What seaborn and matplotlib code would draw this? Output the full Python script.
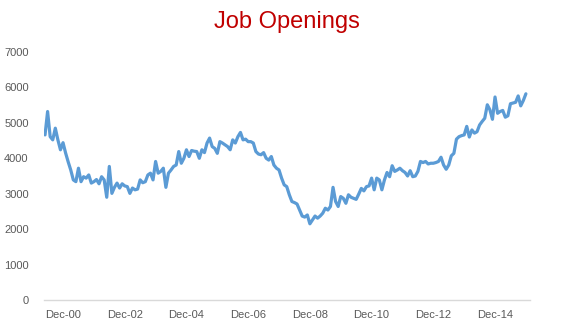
import matplotlib
matplotlib.use("Agg")
import matplotlib.pyplot as plt
import seaborn as sns
import pandas as pd
import numpy as np

title = "Job Openings"
tick_labels = ["Dec-00", "Dec-02", "Dec-04", "Dec-06", "Dec-08", "Dec-10", "Dec-12", "Dec-14"]
y_ticks = [0, 1000, 2000, 3000, 4000, 5000, 6000, 7000]

# Monthly job openings (thousands), Dec 2000 onward
openings = [
    4660, 5320, 4610, 4520, 4850, 4520, 4240, 4440, 4150, 3900,
    3670, 3390, 3340, 3720, 3340, 3480, 3440, 3530, 3300, 3340,
    3400, 3280, 3480, 3390, 2900, 3770, 3010, 3180, 3300, 3160,
    3280, 3220, 3200, 3010, 3160, 3110, 3130, 3390, 3310, 3340,
    3530, 3580, 3390, 3910, 3580, 3630, 3720, 3180, 3580, 3670,
    3770, 3810, 4190, 3860, 4000, 4240, 4050, 4220, 4200, 4190,
    4000, 4240, 4160, 4430, 4570, 4330, 4280, 4140, 4470, 4430,
    4380, 4330, 4240, 4520, 4430, 4610, 4730, 4520, 4540, 4470,
    4470, 4430, 4190, 4120, 4100, 4160, 4000, 3950, 4050, 3810,
    3720, 3670, 3440, 3250, 3200, 2970, 2780, 2750, 2710, 2540,
    2370, 2340, 2400, 2150, 2260, 2370, 2310, 2370, 2450, 2590,
    2540, 2640, 3180, 2780, 2640, 2920, 2870, 2730, 2970, 2900,
    2870, 2840, 2990, 3150, 3080, 3200, 3220, 3440, 3110, 3440,
    3390, 3110, 3390, 3600, 3480, 3790, 3630, 3670, 3720, 3650,
    3600, 3500, 3650, 3480, 3500, 3630, 3910, 3880, 3910, 3840,
    3860, 3860, 3880, 3910, 4030, 3810, 3690, 3810, 4070, 4140,
    4540, 4610, 4640, 4660, 4900, 4600, 4800, 4710, 4750, 4940,
    5040, 5130, 5510, 5370, 5100, 5730, 5270, 5320, 5350, 5160,
    5200, 5540, 5560, 5580, 5760, 5480, 5630, 5820,
]

df = pd.DataFrame({"month": np.arange(len(openings)), "openings": openings})

sns.set_theme(style="white")
plt.rcParams["font.family"] = ["Liberation Sans", "DejaVu Sans"]

fig = plt.figure(figsize=(5.76, 3.36), dpi=100)
ax = fig.add_axes([44 / 576, 36 / 336, 486 / 576, 248 / 336])

sns.lineplot(data=df, x="month", y="openings", ax=ax, color="#5B9BD5", linewidth=2.3)

ax.set_xlim(-0.4, len(openings) + 0.6)
ax.set_ylim(0, 7000)
ax.set_yticks(y_ticks)
ax.set_yticklabels([str(v) for v in y_ticks])
xt = [i * 24 for i in range(len(tick_labels))]
ax.set_xticks(xt)
ax.set_xticklabels(tick_labels, ha="left")
ax.set_xlabel("")
ax.set_ylabel("")

for s in ["top", "right", "left"]:
    ax.spines[s].set_visible(False)
ax.spines["bottom"].set_color("#D9D9D9")
ax.spines["bottom"].set_linewidth(1.0)
ax.tick_params(axis="both", length=0, labelsize=8, labelcolor="#595959")
ax.tick_params(axis="y", pad=11)
ax.tick_params(axis="x", pad=7)
ax.grid(False)

fig.text(287 / 576, 1 - 22 / 336, title, ha="center", va="center",
         fontsize=17, color="#C00000")

fig.savefig("out.png", dpi=100)
